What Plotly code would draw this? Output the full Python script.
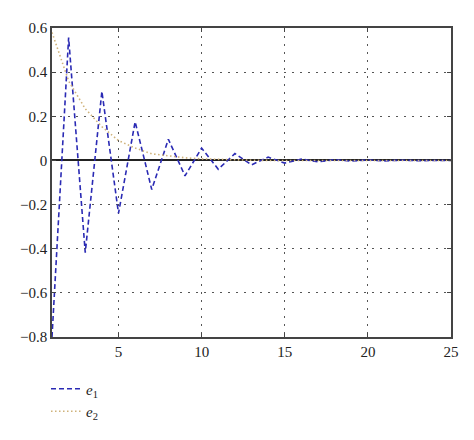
import plotly.graph_objects as go

# sample index
k = list(range(1, 26))

# error signals
e1 = [-0.80, 0.557, -0.418, 0.313, -0.240, 0.175, -0.132, 0.096, -0.070, 0.056,
      -0.040, 0.031, -0.020, 0.015, -0.012, 0.006, -0.006, 0.003, -0.003, 0.002,
      -0.002, 0.001, -0.001, 0.0, 0.0]
e2 = [0.58, 0.36, 0.234, 0.153, 0.090, 0.056, 0.030, 0.020, 0.012, 0.007,
      0.004, 0.002, 0.001, 0.0, 0.0, 0.0, 0.0, 0.0, 0.0, 0.0,
      0.0, 0.0, 0.0, 0.0, 0.0]

y_ticks = [-0.8, -0.6, -0.4, -0.2, 0, 0.2, 0.4, 0.6]
y_labels = ["\u22120.8", "\u22120.6", "\u22120.4", "\u22120.2", "0", "0.2", "0.4", "0.6"]
x_ticks = [5, 10, 15, 20, 25]

fig = go.Figure()
fig.add_trace(go.Scatter(x=k, y=e1, mode="lines", name="<i>e</i><sub>1</sub>",
                         line=dict(color="#2a2ab4", width=1.6, dash="5px,3px")))
fig.add_trace(go.Scatter(x=k, y=e2, mode="lines", name="<i>e</i><sub>2</sub>",
                         line=dict(color="#cfb27a", width=1.6, dash="1.5px,2.5px")))

axis_common = dict(showline=True, linecolor="#444", linewidth=1.5, mirror="ticks",
                   ticks="inside", ticklen=4, tickcolor="#444",
                   showgrid=True, gridcolor="#555", griddash="1.5px,6.5px", gridwidth=1.2,
                   tickfont=dict(family="Liberation Serif", size=15, color="#222"))

fig.update_xaxes(range=[1, 25], tickvals=x_ticks, zeroline=False, **axis_common)
fig.update_yaxes(range=[-0.8, 0.6], tickvals=y_ticks, ticktext=y_labels,
                 zeroline=True, zerolinecolor="#222", zerolinewidth=1.5, **axis_common)

# page body adds an 8px offset, so the figure is sized to fit the window
fig.update_layout(
    width=466, height=432,
    margin=dict(l=43, r=23, t=16, b=102),
    plot_bgcolor="white", paper_bgcolor="white",
    font=dict(family="Liberation Serif", size=15, color="#222"),
    legend=dict(x=-0.015, y=-0.115, xanchor="left", yanchor="top",
                bgcolor="rgba(0,0,0,0)", tracegroupgap=0, itemwidth=30),
)

fig.write_html("out.html")
